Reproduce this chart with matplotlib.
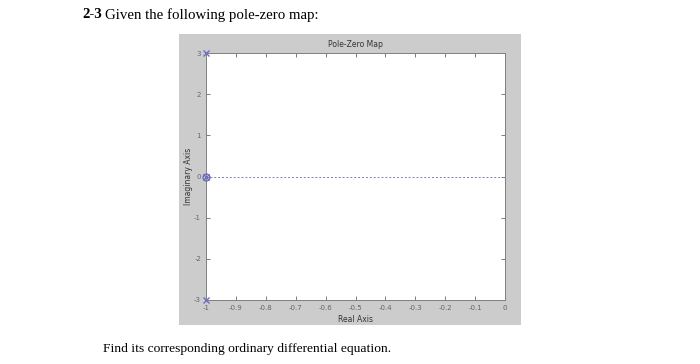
import numpy as np
from matplotlib import pyplot as plt
from matplotlib.patches import Rectangle

# pole / zero locations
pole_re = [-1, -1]
pole_im = [3, -3]
zero_re = [-1]
zero_im = [0]

xticks = np.round(np.arange(-1, 0.01, 0.1), 1)
xlabels = ['-1', '-0.9', '-0.8', '-0.7', '-0.6', '-0.5', '-0.4', '-0.3', '-0.2', '-0.1', '0']
yticks = [-3, -2, -1, 0, 1, 2, 3]
ylabels = ['-3', '-2', '-1', '0', '1', '2', '3']

fig = plt.figure(figsize=(7, 3.64), dpi=100)

# gray matlab-style panel behind the axes
fig.patches.append(Rectangle((179/700, 1-325/364), (521-179)/700, (325-34)/364,
                             transform=fig.transFigure, facecolor='#cccccc',
                             edgecolor='none', zorder=0))

fig.text(82/700, 1-15/364, '2-3', fontsize=10.7, fontweight='bold',
         family='Liberation Serif', va='center', ha='left')
fig.text(105/700, 1-15/364, 'Given the following pole-zero map:', fontsize=10.7,
         family='Liberation Serif', va='center', ha='left')
fig.text(103/700, 1-349/364, 'Find its corresponding ordinary differential equation.',
         fontsize=9.7, family='Liberation Serif', va='center', ha='left')

ax = fig.add_axes([206/700, 1-300/364, (505-206)/700, (300-53)/364], zorder=2)
ax.set_facecolor('white')
ax.axhline(0, color='#8080b0', linestyle=(0, (2, 2)), linewidth=0.7)
ax.plot(pole_re, pole_im, 'x', color='#6a6ad0', markersize=5, clip_on=False)
ax.plot(zero_re, zero_im, 'o', color='#6a6ad0', markerfacecolor='none',
        markersize=5, clip_on=False)
ax.plot(zero_re, zero_im, 'x', color='#6a6ad0', markersize=4, clip_on=False)

ax.set_xlim(-1, 0)
ax.set_ylim(-3, 3)
ax.set_xticks(xticks)
ax.set_xticklabels(xlabels)
ax.set_yticks(yticks)
ax.set_yticklabels(ylabels)
ax.tick_params(direction='in', top=True, right=True, labelsize=5,
               colors='#666666', length=3, width=0.6)
for s in ax.spines.values():
    s.set_color('#808080')
    s.set_linewidth(0.7)

ax.set_title('Pole-Zero Map', fontsize=5.5, color='#333333', pad=4)
ax.set_xlabel('Real Axis', fontsize=5.5, color='#333333', labelpad=3)
ax.set_ylabel('Imaginary Axis', fontsize=5.5, color='#333333', labelpad=1)

plt.savefig('out.png', dpi=100)
